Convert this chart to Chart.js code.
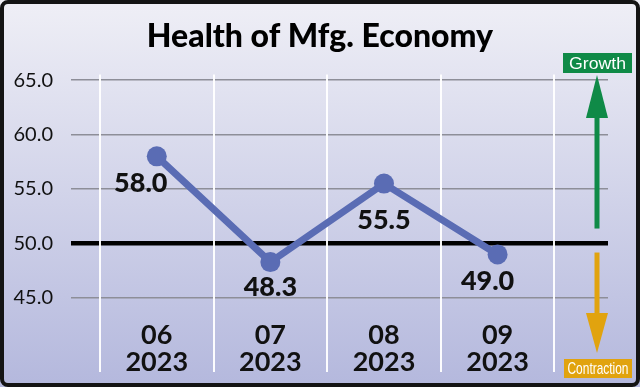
<!DOCTYPE html>
<html>
<head>
<meta charset="utf-8">
<script src="https://cdn.jsdelivr.net/npm/chart.js@4"></script>
<style>
html,body{margin:0;padding:0;background:#fff;}
#wrap{width:640px;height:387px;}
</style>
</head>
<body>
<div id="wrap"><canvas id="c" width="640" height="387"></canvas></div>
<script>
const categories = ['06\n2023', '07\n2023', '08\n2023', '09\n2023'];
const values = [58.0, 48.3, 55.5, 49.0];
const yTicks = [45, 50, 55, 60, 65];
const valueLabels = ['58.0', '48.3', '55.5', '49.0'];
const threshold = 50;

const labelOffsets = [[-16, 27], [0, 25], [0, 37], [-10, 27]];

const bgPlugin = {
  id: 'bg',
  beforeDraw(chart) {
    const ctx = chart.ctx;
    const g = ctx.createLinearGradient(0, 0, 0, chart.height);
    g.addColorStop(0, '#efeff6');
    g.addColorStop(1, '#b4b8dd');
    ctx.save();
    ctx.fillStyle = g;
    ctx.fillRect(0, 0, chart.width, chart.height);
    ctx.restore();
  },
  afterDraw(chart) {
    const ctx = chart.ctx;
    ctx.save();
    const green = '#0f8a47', gold = '#e1a30e';
    const ax = 597;
    const y50 = chart.scales.y.getPixelForValue(threshold);
    ctx.fillStyle = green;
    ctx.fillRect(ax - 2.5, 117, 5, (y50 - 15) - 117);
    ctx.beginPath();
    ctx.moveTo(ax, 75); ctx.lineTo(ax + 11, 118); ctx.lineTo(ax - 11, 118); ctx.closePath();
    ctx.fill();
    ctx.fillStyle = gold;
    ctx.fillRect(ax - 2.5, y50 + 9, 5, 314 - (y50 + 9));
    ctx.beginPath();
    ctx.moveTo(ax - 11, 313); ctx.lineTo(ax + 11, 313); ctx.lineTo(ax, 353); ctx.closePath();
    ctx.fill();
    function box(color, x, y, w, h, text, tw) {
      ctx.fillStyle = color;
      ctx.fillRect(x, y, w, h);
      ctx.font = '17px "Liberation Sans Narrow", "Liberation Sans", sans-serif';
      const m = ctx.measureText(text).width;
      ctx.save();
      ctx.translate(x + w / 2, y + h / 2 + 1);
      ctx.scale(tw / m, 1);
      ctx.fillStyle = '#fff';
      ctx.textAlign = 'center';
      ctx.textBaseline = 'middle';
      ctx.fillText(text, 0, 0);
      ctx.restore();
    }
    box(green, 563, 53, 69, 20, 'Growth', 57);
    box(gold, 564, 359, 68, 19, 'Contraction', 61);
    ctx.strokeStyle = '#141414';
    ctx.lineWidth = 4;
    ctx.beginPath();
    ctx.roundRect(2, 2, chart.width - 4, chart.height - 4, 6);
    ctx.stroke();
    ctx.restore();
  }
};

const labelPlugin = {
  id: 'vlabels',
  afterDatasetsDraw(chart) {
    const ctx = chart.ctx;
    const meta = chart.getDatasetMeta(0);
    ctx.save();
    ctx.font = '900 27px Lato, "Open Sans", sans-serif';
    ctx.fillStyle = '#111';
    ctx.textAlign = 'center';
    ctx.textBaseline = 'middle';
    meta.data.forEach((pt, i) => {
      ctx.fillText(valueLabels[i], pt.x + labelOffsets[i][0], pt.y + labelOffsets[i][1]);
    });
    ctx.restore();
  }
};

new Chart(document.getElementById('c'), {
  type: 'line',
  data: {
    datasets: [{
      data: values.map((v, i) => ({x: i, y: v})),
      borderColor: '#5a6cb4',
      backgroundColor: '#5a6cb4',
      borderWidth: 7,
      pointRadius: 10,
      pointBorderWidth: 0,
      pointBackgroundColor: '#5a6cb4',
      tension: 0,
      fill: false
    }]
  },
  options: {
    responsive: false,
    animation: false,
    layout: {padding: 0},
    plugins: {
      legend: {display: false},
      tooltip: {enabled: false},
      title: {
        display: true,
        text: 'Health of Mfg. Economy',
        color: '#000',
        font: {family: 'Lato', size: 32, weight: '900'},
        padding: {top: 17, bottom: 19}
      }
    },
    scales: {
      x: {
        type: 'linear',
        min: -0.755,
        max: 3.972,
        afterBuildTicks(scale) { scale.ticks = categories.map((c, i) => ({value: i})); },
        afterFit(scale) { scale.height = 82; },
        grid: {
          offset: true,
          color: 'rgba(255,255,255,0.95)',
          lineWidth: 2,
          drawTicks: true,
          tickLength: 67,
          tickColor: 'rgba(255,255,255,0.95)',
          tickWidth: 2,
          z: -1
        },
        border: {display: false},
        ticks: {
          padding: -50.5,
          maxRotation: 0,
          autoSkip: false,
          color: '#111',
          font: {family: 'Lato', size: 27, weight: 'bold', lineHeight: 1.0},
          callback: (v) => categories[Math.round(v)].split('\n')
        }
      },
      y: {
        min: 44.36,
        max: 65.52,
        afterBuildTicks(scale) { scale.ticks = yTicks.map(v => ({value: v})); },
        afterFit(scale) { scale.width = 71; },
        grid: {
          drawTicks: false,
          color: (c) => c.tick && c.tick.value === threshold ? '#000' : '#8d8e98',
          lineWidth: (c) => c.tick && c.tick.value === threshold ? 4.5 : 1.5,
          z: -2
        },
        border: {display: false},
        ticks: {
          padding: 18,
          color: '#111',
          font: {family: 'Lato', size: 20},
          callback: (v) => Number(v).toFixed(1)
        }
      },
      yRight: {
        position: 'right',
        display: true,
        min: 0,
        max: 1,
        afterBuildTicks(scale) { scale.ticks = []; },
        afterFit(scale) { scale.width = 32; },
        grid: {display: false},
        border: {display: false},
        ticks: {display: false}
      }
    }
  },
  plugins: [bgPlugin, labelPlugin]
});
</script>
</body>
</html>
